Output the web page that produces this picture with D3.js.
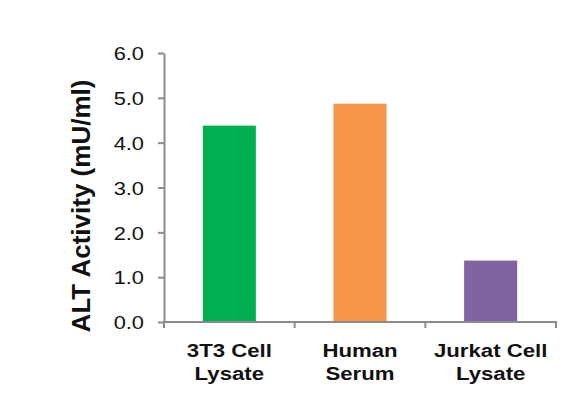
<!DOCTYPE html>
<html>
<head>
<meta charset="utf-8">
<script src="https://cdn.jsdelivr.net/npm/d3@7"></script>
<style>
    body { margin: 0; background: #fff; }
    svg { display: block; font-family: "Liberation Sans", Arial, sans-serif; }
</style>
</head>
<body>
<div id="chart"></div>
<script>
// data
var categories = [["3T3 Cell", "Lysate"], ["Human", "Serum"], ["Jurkat Cell", "Lysate"]],
    activity = [4.38, 4.87, 1.37],
    barColors = ["#00b050", "#f79646", "#8064a2"],
    yTicks = [0, 1, 2, 3, 4, 5, 6];

var width = 572,
    height = 401,
    axisColor = "#8c8c8c",
    plot = { left: 164, right: 556, top: 53, bottom: 322 };

var svg = d3.select("#chart").append("svg")
    .attr("width", width)
    .attr("height", height);

var keys = categories.map(function (c) { return c.join(" "); });

var x = d3.scaleBand()
    .domain(keys)
    .range([plot.left, plot.right])
    .paddingInner(0.594)
    .paddingOuter(0.297);

var y = d3.scaleLinear()
    .domain([0, 6])
    .range([plot.bottom, plot.top]);

// bars
svg.append("g")
    .selectAll("rect")
    .data(activity)
    .enter().append("rect")
    .attr("x", function (d, i) { return x(keys[i]); })
    .attr("y", function (d) { return y(d); })
    .attr("width", x.bandwidth())
    .attr("height", function (d) { return y(0) - y(d); })
    .attr("fill", function (d, i) { return barColors[i]; });

// y axis
var yAxis = svg.append("g")
    .attr("transform", "translate(" + plot.left + ",0)")
    .call(d3.axisLeft(y).tickValues(yTicks).tickSize(6).tickSizeOuter(0)
        .tickFormat(d3.format(".1f")));

yAxis.select(".domain").attr("stroke", axisColor).attr("stroke-width", 2);
yAxis.selectAll(".tick line").attr("stroke", axisColor).attr("stroke-width", 2);
yAxis.selectAll(".tick text")
    .attr("x", 0)
    .attr("dy", "0.36em")
    .attr("transform", "translate(-20,0) scale(1.18,1)")
    .attr("font-size", 18.5)
    .attr("fill", "#111");

// x axis: line plus tick marks between categories
var step = x.step(),
    bounds = [plot.left].concat(keys.map(function (k) { return x(k) + x.bandwidth() / 2 + step / 2; }));

var xAxis = svg.append("g");

xAxis.append("line")
    .attr("x1", plot.left - 1)
    .attr("x2", plot.right + 1)
    .attr("y1", y(0))
    .attr("y2", y(0))
    .attr("stroke", axisColor)
    .attr("stroke-width", 2);

xAxis.selectAll(".xtick")
    .data(bounds)
    .enter().append("line")
    .attr("x1", function (d) { return d; })
    .attr("x2", function (d) { return d; })
    .attr("y1", y(0))
    .attr("y2", y(0) + 6)
    .attr("stroke", axisColor)
    .attr("stroke-width", 2);

// category labels, two lines each
var labels = xAxis.selectAll(".xlabel")
    .data(categories)
    .enter().append("g")
    .attr("transform", function (d, i) {
        return "translate(" + (x(keys[i]) + x.bandwidth() / 2) + ",0) scale(1.2,1)";
    });

labels.selectAll("text")
    .data(function (d) { return d; })
    .enter().append("text")
    .attr("y", function (d, j) { return 357 + j * 23.5; })
    .attr("text-anchor", "middle")
    .attr("font-size", 18.5)
    .attr("font-weight", "bold")
    .attr("fill", "#111")
    .text(function (d) { return d; });

// y axis title
svg.append("text")
    .attr("transform", "translate(90,206) rotate(-90)")
    .attr("text-anchor", "middle")
    .attr("font-size", 26)
    .attr("font-weight", "bold")
    .attr("fill", "#111")
    .text("ALT Activity (mU/ml)");
</script>
</body>
</html>
